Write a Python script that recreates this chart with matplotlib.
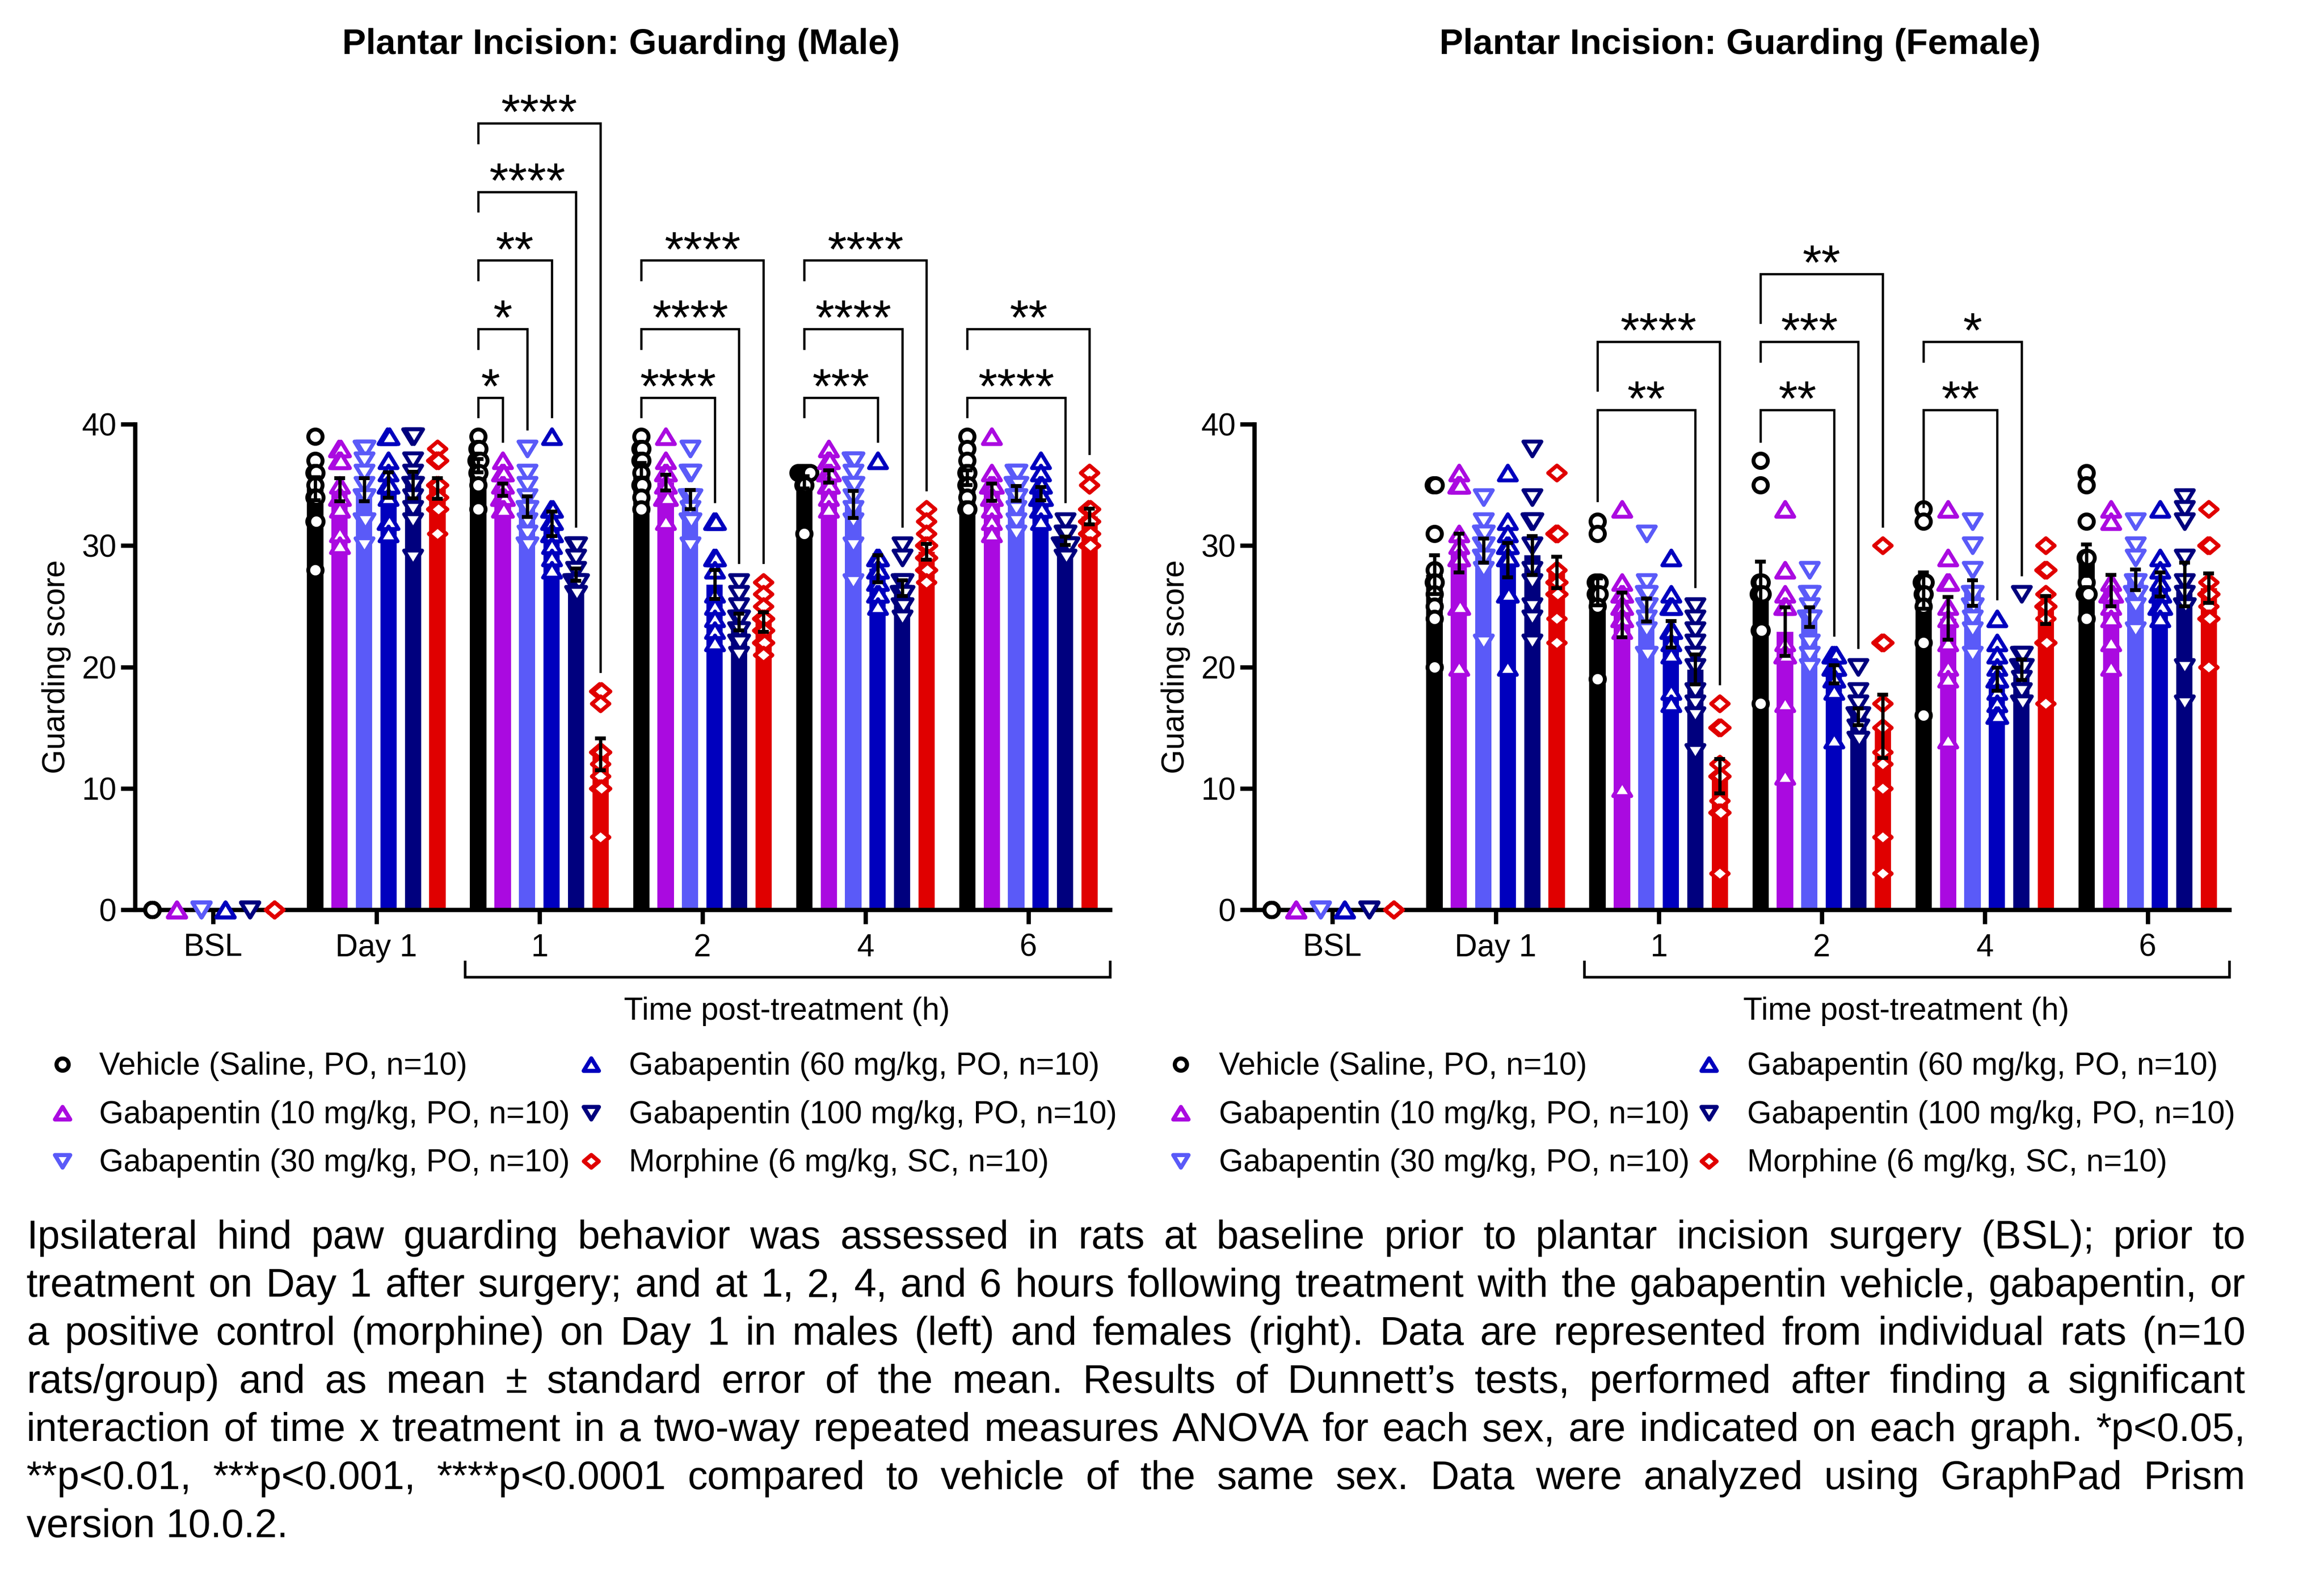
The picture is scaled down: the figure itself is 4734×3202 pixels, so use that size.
import matplotlib
matplotlib.use("Agg")
import matplotlib.pyplot as plt
import matplotlib.transforms as mtransforms
from matplotlib.lines import Line2D
from matplotlib.path import Path
import numpy as np

plt.rcParams['font.family'] = ['Liberation Sans', 'DejaVu Sans']

# ---------------- data ----------------
groups = ["BSL", "Day 1", "1", "2", "4", "6"]
labels = ["Vehicle (Saline, PO, n=10)", "Gabapentin (10 mg/kg, PO, n=10)",
          "Gabapentin (30 mg/kg, PO, n=10)", "Gabapentin (60 mg/kg, PO, n=10)",
          "Gabapentin (100 mg/kg, PO, n=10)", "Morphine (6 mg/kg, SC, n=10)"]
colors = ["#000000", "#AA0AE0", "#5A5AF8", "#0000BE", "#00007E", "#E00000"]

bsl_points = [0, 0, 0, 0, 0, 0, 0, 0, 0, 0]

# male: means / sem per series over groups BSL, Day 1, 1, 2, 4, 6 h
m_mean_veh = [0, 34.7, 36.6, 36.2, 35.2, 35.6]
m_mean_g10 = [0, 34.6, 34.6, 35.2, 35.7, 34.4]
m_mean_g30 = [0, 34.6, 33.2, 33.8, 33.4, 34.3]
m_mean_g60 = [0, 35.0, 31.8, 26.8, 28.1, 34.3]
m_mean_g100 = [0, 35.0, 27.6, 23.7, 26.5, 30.4]
m_mean_mor = [0, 34.7, 12.8, 23.7, 29.5, 32.4]

m_sem_veh = [0, 0.95, 0.55, 0.6, 0.5, 0.6]
m_sem_g10 = [0, 0.95, 0.5, 0.65, 0.5, 0.7]
m_sem_g30 = [0, 0.95, 0.85, 0.8, 1.1, 0.6]
m_sem_g60 = [0, 1.05, 1.0, 1.2, 1.1, 0.55]
m_sem_g100 = [0, 1.1, 0.5, 0.7, 0.65, 0.35]
m_sem_mor = [0, 0.85, 1.3, 0.8, 0.65, 0.65]

# individual rats, groups Day 1, 1, 2, 4, 6 h
m_pts_veh = [[39, 37, 36, 36, 35, 34, 34, 32, 32, 28], [39, 38, 38, 37, 37, 37, 36, 36, 35, 33],
             [39, 38, 38, 37, 37, 36, 35, 35, 34, 33], [36, 36, 36, 36, 36, 36, 36, 35, 35, 31],
             [39, 38, 37, 36, 36, 35, 35, 34, 33, 33]]
m_pts_g10 = [[38, 38, 37, 37, 35, 34, 34, 33, 31, 30], [37, 36, 36, 35, 35, 34, 34, 34, 33, 33],
             [39, 37, 36, 36, 35, 35, 34, 34, 34, 32], [38, 37, 37, 36, 36, 36, 35, 35, 34, 33],
             [39, 36, 35, 35, 35, 34, 34, 33, 32, 31]]
m_pts_g30 = [[38, 38, 37, 36, 35, 34, 34, 32, 32, 30], [38, 36, 35, 34, 33, 33, 32, 31, 30, 30],
             [38, 36, 36, 34, 34, 34, 33, 32, 32, 30], [37, 37, 36, 35, 35, 34, 33, 32, 30, 27],
             [36, 36, 35, 35, 35, 34, 34, 33, 32, 31]]
m_pts_g60 = [[39, 39, 37, 36, 35, 35, 34, 32, 32, 31], [39, 33, 33, 32, 32, 31, 31, 30, 29, 28],
             [32, 32, 29, 29, 28, 26, 25, 24, 23, 22], [37, 29, 29, 28, 28, 27, 27, 26, 26, 25],
             [37, 36, 35, 35, 34, 34, 34, 33, 33, 32]]
m_pts_g100 = [[39, 39, 37, 36, 35, 35, 34, 33, 32, 29], [30, 30, 29, 28, 27, 27, 27, 27, 26, 26],
              [27, 26, 25, 24, 24, 23, 23, 22, 22, 21], [30, 29, 27, 27, 26, 26, 26, 25, 25, 24],
              [32, 31, 31, 30, 30, 30, 30, 30, 29, 29]]
m_pts_mor = [[38, 37, 37, 35, 35, 34, 34, 33, 33, 31], [18, 18, 17, 13, 13, 12, 11, 10, 10, 6],
             [27, 26, 25, 24, 24, 23, 23, 22, 22, 21], [33, 32, 31, 30, 30, 29, 29, 28, 28, 27],
             [36, 35, 33, 33, 32, 32, 31, 31, 30, 30]]

# female
f_mean_veh = [0, 27.6, 26.2, 27.0, 26.3, 28.8]
f_mean_g10 = [0, 29.4, 24.3, 22.9, 24.0, 26.3]
f_mean_g30 = [0, 29.6, 24.7, 24.1, 26.1, 27.2]
f_mean_g60 = [0, 28.8, 22.7, 19.4, 19.0, 26.8]
f_mean_g100 = [0, 29.2, 19.8, 15.9, 19.8, 26.8]
f_mean_mor = [0, 27.8, 11.0, 15.1, 24.7, 26.5]

f_sem_veh = [0, 1.6, 1.1, 1.7, 1.5, 1.3]
f_sem_g10 = [0, 1.6, 1.85, 2.0, 1.75, 1.3]
f_sem_g30 = [0, 1.0, 0.95, 0.8, 1.05, 0.85]
f_sem_g60 = [0, 1.4, 1.1, 0.75, 0.95, 1.0]
f_sem_g100 = [0, 1.6, 1.25, 0.7, 0.85, 1.8]
f_sem_mor = [0, 1.3, 1.4, 2.6, 1.15, 1.2]

f_pts_veh = [[35, 35, 31, 28, 27, 27, 26, 25, 24, 20], [32, 31, 27, 27, 27, 26, 26, 26, 25, 19],
             [37, 35, 27, 27, 26, 26, 26, 23, 23, 17], [33, 32, 27, 27, 27, 26, 26, 25, 22, 16],
             [36, 35, 32, 29, 29, 27, 26, 26, 26, 24]]
f_pts_g10 = [[36, 35, 35, 31, 30, 29, 29, 25, 25, 20], [33, 27, 26, 26, 25, 25, 24, 24, 23, 10],
             [33, 28, 26, 25, 25, 22, 21, 21, 17, 11], [33, 29, 27, 27, 25, 24, 22, 20, 19, 14],
             [33, 32, 27, 26, 26, 26, 25, 24, 22, 20]]
f_pts_g30 = [[34, 32, 31, 31, 30, 30, 29, 29, 28, 22], [31, 27, 26, 26, 25, 25, 24, 23, 21, 21],
             [28, 26, 26, 25, 24, 24, 24, 22, 21, 20], [32, 30, 28, 26, 26, 25, 25, 24, 23, 21],
             [32, 30, 29, 27, 27, 26, 26, 26, 25, 23]]
f_pts_g60 = [[36, 32, 31, 30, 30, 29, 29, 26, 26, 20], [29, 26, 25, 25, 23, 23, 22, 21, 18, 17],
             [21, 21, 21, 20, 20, 20, 19, 19, 18, 14], [24, 22, 21, 20, 19, 19, 18, 17, 16, 16],
             [33, 29, 28, 27, 26, 26, 25, 25, 25, 24]]
f_pts_g100 = [[38, 34, 32, 32, 30, 28, 27, 25, 24, 22], [25, 24, 23, 22, 21, 20, 18, 17, 16, 13],
              [20, 18, 17, 16, 16, 16, 15, 15, 14, 14], [26, 21, 21, 20, 20, 20, 19, 18, 17, 17],
              [34, 33, 32, 29, 27, 26, 25, 25, 20, 17]]
f_pts_mor = [[36, 31, 31, 28, 27, 27, 26, 26, 24, 22], [17, 15, 15, 12, 11, 11, 9, 8, 8, 3],
             [30, 22, 22, 17, 15, 13, 12, 10, 6, 3], [30, 28, 28, 26, 25, 25, 24, 22, 22, 17],
             [33, 30, 30, 27, 26, 26, 25, 24, 24, 20]]

# Dunnett comparisons vs vehicle: (group, series, level, stars)
m_tests = [(2, 1, 0, "*"), (2, 2, 1, "*"), (2, 3, 2, "**"), (2, 4, 3, "****"), (2, 5, 4, "****"),
           (3, 3, 0, "****"), (3, 4, 1, "****"), (3, 5, 2, "****"),
           (4, 3, 0, "***"), (4, 4, 1, "****"), (4, 5, 2, "****"),
           (5, 4, 0, "****"), (5, 5, 1, "**")]
f_tests = [(2, 4, 0, "**"), (2, 5, 1, "****"),
           (3, 3, 0, "**"), (3, 4, 1, "***"), (3, 5, 2, "**"),
           (4, 3, 0, "**"), (4, 4, 1, "*")]
# length of the left leg of each bracket (y units)
m_left_leg = [1.6] * len(m_tests)
f_left_leg = [7.5, 4.0, 2.6, 1.6, 4.0, 8.0, 1.6]

caption_lines = [
    "Ipsilateral hind paw guarding behavior was assessed in rats at baseline prior to plantar incision surgery (BSL); prior to",
    "treatment on Day 1 after surgery; and at 1, 2, 4, and 6 hours following treatment with the gabapentin vehicle, gabapentin, or",
    "a positive control (morphine) on Day 1 in males (left) and females (right). Data are represented from individual rats (n=10",
    "rats/group) and as mean \u00b1 standard error of the mean. Results of Dunnett\u2019s tests, performed after finding a significant",
    "interaction of time x treatment in a two-way repeated measures ANOVA for each sex, are indicated on each graph. *p<0.05,",
    "**p<0.01, ***p<0.001, ****p<0.0001 compared to vehicle of the same sex. Data were analyzed using GraphPad Prism",
    "version 10.0.2.",
]

# ---------------- style ----------------
W, H = 4734, 3202
tri_up = Path([(-1, -0.82), (1, -0.82), (0, 0.82), (-1, -0.82)], closed=True)
tri_dn = Path([(-1, 0.82), (1, 0.82), (0, -0.82), (-1, 0.82)], closed=True)
diamond = Path([(0, 0.85), (1, 0), (0, -0.85), (-1, 0), (0, 0.85)], closed=True)
markers = ["o", tri_up, tri_dn, tri_up, tri_dn, diamond]
msizes = [7.0, 8.8, 8.8, 8.8, 8.8, 8.6]

FS = 15.3
BW = 0.1
STEP = 0.15


def spread(vals):
    vals = np.asarray(vals, float)
    off = np.zeros(len(vals))
    for v in np.unique(vals):
        idx = np.where(vals == v)[0]
        if len(idx) > 1 and v > 0:
            off[idx] = (np.arange(len(idx)) - (len(idx) - 1) / 2.0) * 0.012
    return off


def draw_panel(ax, title, means, sems, points, tests, left_leg, base, step):
    gx = np.arange(len(groups))
    for s in range(6):
        xs = gx + (s - 2.5) * STEP
        ax.bar(xs, means[s], width=BW, color=colors[s], zorder=2, linewidth=0)
        for g in range(len(groups)):
            vals = bsl_points if g == 0 else points[s][g - 1]
            ax.plot(xs[g] + spread(vals), vals, linestyle="none", marker=markers[s],
                    ms=msizes[s], mfc="white", mec=colors[s], mew=1.9, zorder=3, clip_on=False)
        ax.errorbar(xs[1:], means[s][1:], yerr=sems[s][1:], fmt="none", ecolor="black",
                    elinewidth=1.6, capsize=2.6, capthick=1.9, zorder=5)

    for (g, s, lev, star), leg in zip(tests, left_leg):
        xl = g + (0 - 2.5) * STEP
        xr = g + (s - 2.5) * STEP
        h = base + lev * step
        rb = max(points[s][g - 1]) + 1.6
        ax.plot([xl, xl, xr, xr], [h - leg, h, h, rb], color="black", lw=1.1,
                zorder=4, clip_on=False, solid_joinstyle="miter")
        ax.text((xl + xr) / 2, h - 0.45, star, ha="center", va="baseline", fontsize=24)

    ax.set_xlim(-0.48, 5.5)
    ax.set_ylim(0, 69)
    for side in ["top", "right"]:
        ax.spines[side].set_visible(False)
    ax.spines["left"].set_bounds(0, 40)
    ax.spines["left"].set_linewidth(2.1)
    ax.spines["bottom"].set_linewidth(2.1)
    ax.set_yticks([0, 10, 20, 30, 40])
    ax.set_xticks(gx)
    ax.set_xticklabels(groups)
    ax.tick_params(axis="both", direction="out", length=7, width=2.1, labelsize=FS)
    ax.tick_params(axis="y", pad=2)
    ax.tick_params(axis="x", pad=4.5)

    # bracket for the post-treatment time points
    ax.plot([1.544, 1.544, 5.5, 5.5], [-4.29, -5.54, -5.54, -4.29], color="black",
            lw=1.3, clip_on=False, solid_joinstyle="miter")
    ax.text(3.52, -8.37, "Time post-treatment (h)", ha="center", va="center", fontsize=FS)

    tr = mtransforms.blended_transform_factory(ax.transAxes, ax.transData)
    ax.text(-0.0806, 20, "Guarding score", transform=tr, rotation=90,
            ha="center", va="center", fontsize=FS)
    tt = mtransforms.blended_transform_factory(ax.transData, fig.transFigure)
    ax.text(2.5, 1 - 91 / H, title, transform=tt, ha="center", va="center",
            fontsize=17.4, fontweight="bold")


def draw_legend(x_marker1, x_text1, x_marker2, x_text2):
    rows = [2168, 2267, 2365]
    for i in range(6):
        col = i // 3
        row = i % 3
        xm = x_marker1 if col == 0 else x_marker2
        xt = x_text1 if col == 0 else x_text2
        y = 1 - rows[row] / H
        fig.add_artist(Line2D([xm / W], [y], transform=fig.transFigure, linestyle="none",
                              marker=markers[i], ms=msizes[i] * 0.85, mfc="white",
                              mec=colors[i], mew=2.0))
        fig.text(xt / W, y - 4 / H, labels[i], ha="left", va="center", fontsize=FS)


fig = plt.figure(figsize=(W / 300, H / 300), dpi=300)

ax_m = fig.add_axes([275 / W, (H - 1853) / H, 1986 / W, 69 * 24.72 / H])
ax_f = fig.add_axes([2555 / W, (H - 1853) / H, 1986 / W, 69 * 24.72 / H])

draw_panel(ax_m, "Plantar Incision: Guarding (Male)",
           [m_mean_veh, m_mean_g10, m_mean_g30, m_mean_g60, m_mean_g100, m_mean_mor],
           [m_sem_veh, m_sem_g10, m_sem_g30, m_sem_g60, m_sem_g100, m_sem_mor],
           [m_pts_veh, m_pts_g10, m_pts_g30, m_pts_g60, m_pts_g100, m_pts_mor],
           m_tests, m_left_leg, 42.2, 5.65)
draw_panel(ax_f, "Plantar Incision: Guarding (Female)",
           [f_mean_veh, f_mean_g10, f_mean_g30, f_mean_g60, f_mean_g100, f_mean_mor],
           [f_sem_veh, f_sem_g10, f_sem_g30, f_sem_g60, f_sem_g100, f_sem_mor],
           [f_pts_veh, f_pts_g10, f_pts_g30, f_pts_g60, f_pts_g100, f_pts_mor],
           f_tests, f_left_leg, 41.2, 5.6)

draw_legend(127, 202, 1204, 1281)
draw_legend(2405, 2483, 3481, 3559)

# caption, justified like the original
renderer = fig.canvas.get_renderer()
x0, x1 = 54, 4574
for k, line in enumerate(caption_lines):
    y = 1 - (2543 + 98 * k) / H
    if k == len(caption_lines) - 1:
        fig.text(x0 / W, y, line, ha="left", va="baseline", fontsize=19.5)
        continue
    words = line.split(" ")
    objs = [fig.text(0, y, w, ha="left", va="baseline", fontsize=19.5) for w in words]
    widths = [o.get_window_extent(renderer).width for o in objs]
    gap = (x1 - x0 - sum(widths)) / (len(words) - 1)
    x = x0
    for o, w in zip(objs, widths):
        o.set_x(x / W)
        x += w + gap

fig.savefig("out.png", dpi=300)
